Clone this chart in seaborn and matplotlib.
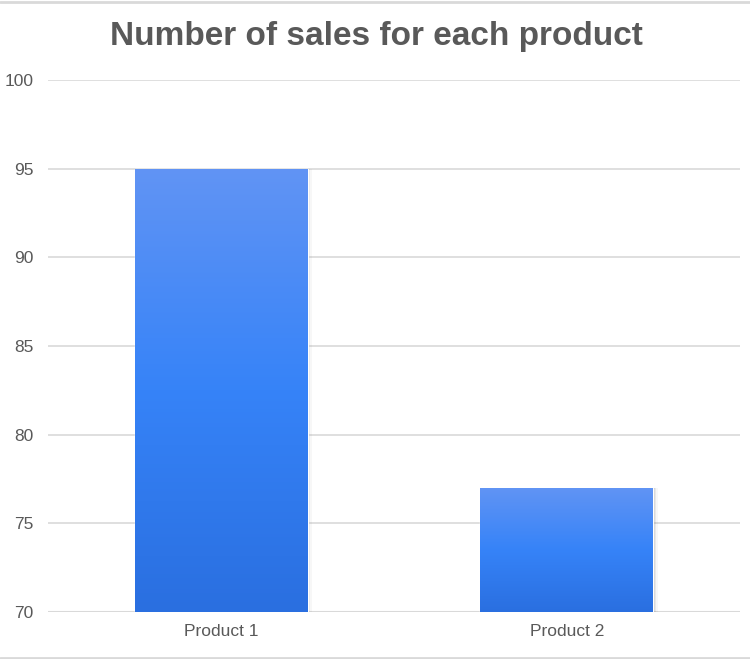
import matplotlib
matplotlib.use("Agg")
import matplotlib.pyplot as plt
import numpy as np
import pandas as pd
import seaborn as sns
from matplotlib.colors import LinearSegmentedColormap

productos = ["Product 1", "Product 2"]
ventas = [95, 77]

y_min, y_max, y_paso = 70, 100, 5

sns.set_theme(style="white")
plt.rcParams['font.family'] = ['Liberation Sans', 'DejaVu Sans']

df = pd.DataFrame({"producto": productos, "ventas": ventas})

fig = plt.figure(figsize=(7.5, 6.59), dpi=100)
ax = fig.add_axes([48 / 750, 1 - 612 / 659, 692 / 750, 532 / 659])

sns.barplot(data=df, x="producto", y="ventas", color="#3A82F7", width=0.5,
            ax=ax, zorder=3)
ax.set_ylim(y_min, y_max)
ax.set_yticks(np.arange(y_min, y_max + 1, y_paso))
ax.set_xlim(-0.5, len(productos) - 0.5)

# Degradado vertical dentro de cada barra
cmap = LinearSegmentedColormap.from_list("azul", ["#2A6FE0", "#3683F8", "#6194F4"])
grad = np.linspace(0, 1, 256).reshape(-1, 1)
for barra in ax.patches:
    x0, y0 = barra.get_x(), barra.get_y()
    w, h = barra.get_width(), barra.get_height()
    # sombra suave
    for k, a in enumerate([0.10, 0.06, 0.03]):
        ax.add_patch(plt.Rectangle((x0 + w, y0), 0.004 * (k + 1), h,
                                   color="black", alpha=a, lw=0, zorder=2))
    img = ax.imshow(grad, cmap=cmap, origin="lower", aspect="auto",
                    extent=[x0, x0 + w, y_min, y0 + h], zorder=4)
    img.set_clip_path(barra)
ax.set_xlim(-0.5, len(productos) - 0.5)
ax.set_ylim(y_min, y_max)

ax.yaxis.grid(True, color="#D9D9D9", linewidth=1.2, zorder=0)
ax.set_axisbelow(True)
sns.despine(ax=ax, left=True, bottom=True)
ax.axhline(y_min, color="#D9D9D9", linewidth=1.5, zorder=1)

ax.set_xlabel("")
ax.set_ylabel("")
ax.tick_params(axis="both", length=0, labelsize=12.5, colors="#595959")
ax.tick_params(axis="y", pad=10.5)
ax.tick_params(axis="x", pad=9)

fig.suptitle("Number of sales for each product", x=376 / 750, y=1 - 37 / 659,
             va="center", fontsize=24, fontweight="bold", color="#595959")

# borde del gráfico
fig.add_artist(plt.Line2D([0, 1], [1 - 1.5 / 659, 1 - 1.5 / 659], color="#D9D9D9",
                          linewidth=2, transform=fig.transFigure))
fig.add_artist(plt.Line2D([0, 1], [1.5 / 659, 1.5 / 659], color="#D9D9D9",
                          linewidth=2, transform=fig.transFigure))

fig.savefig("out.png", dpi=100)
